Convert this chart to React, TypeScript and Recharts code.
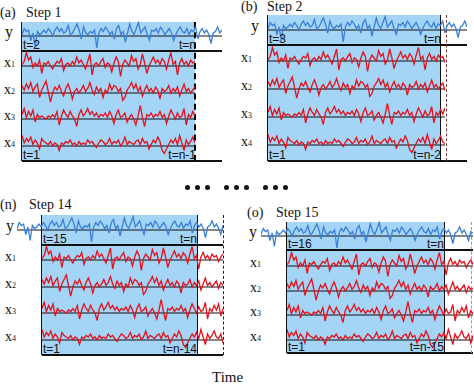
import React from "react";
import { LineChart, Line, XAxis, YAxis, ReferenceLine } from "recharts";

// target series, baseline = 0
const ySeries = [
  0.1, 0.5, 0.3, 0.4, -0.3, 0.2, -0.7, 0.3, 0.1, 0.2,
  0.4, 0.2, 0.5, 0.3, 0.0, 0.4, 0.6, 0.3, 0.5, 0.2,
  0.3, 0.7, 0.1, 0.2, 0.5, 0.8, 0.4, -0.2, 0.6, 0.2,
  0.1, 0.3, 0.2, 0.4, -0.8, 0.2, 0.5, 0.3, 0.6, 0.4,
  0.1, 0.3, -0.2, 0.5, 0.7, 0.1, 0.3, -0.4, 0.2, 0.8,
  0.3, 0.1, 0.5, 0.9, 0.2, 0.4, 0.6, 0.1, -0.3, 0.4,
  0.3, 0.5, 0.2, 0.6, 0.4, 0.1, 0.3, 0.5, 0.2, -0.3,
  0.1, 0.4, 0.6, 0.3, 0.2, 0.5, 0.1, 0.4, 0.3, 0.6,
  -0.2, 0.3, 0.5, 0.2, 0.4, 0.1, -0.5, 0.2, 0.3, 0.6,
  0.2, 0.4, 0.1, -0.3, 0.3, 0.2,
];

const x1Series = [
  0.1, 0.3, 0.9, 0.4, 0.6, -0.1, 0.2, 0.0, 0.4, -0.5,
  0.2, 0.1, 0.3, 0.0, -0.2, 0.1, 0.3, 0.2, 0.5, -0.3,
  0.1, 0.2, 0.0, 0.3, 0.1, 0.6, 0.2, 0.4, 0.1, -0.2,
  0.3, 0.8, -0.6, 0.1, 0.2, 0.0, 0.3, 0.5, -0.1, 0.2,
  0.1, -0.4, 0.2, 0.6, 0.3, -0.7, 0.1, 0.4, 0.2, 0.0,
  0.7, 0.3, 0.5, -0.2, 0.1, 0.8, 0.2, -0.5, 0.0, 0.3,
  0.6, 0.2, 0.4, 0.1, 0.5, 0.3, -0.2, 0.4, 0.9, 0.1,
  0.3, -0.6, 0.2, 0.5, 0.1, 0.3, 0.0, 0.4, 0.2, 0.3,
  -0.1, 0.2, 0.4, 0.1,
];

const x2Series = [
  0.5, 0.2, 0.6, 0.3, 0.7, 0.1, 0.4, 0.6, -0.3, 0.2,
  0.5, 0.8, 0.1, -0.6, 0.0, 0.4, 0.2, 0.5, 0.1, -0.2,
  0.3, 0.6, 0.2, -0.4, 0.1, 0.3, 0.0, 0.2, 0.5, 0.1,
  0.3, 0.7, 0.2, -0.1, 0.4, 0.1, 0.3, -0.3, 0.2, 0.0,
  0.6, 0.2, 0.5, 0.4, 0.1, 0.3, -0.5, -0.3, 0.2, 0.4,
  0.7, 0.3, 0.6, 0.1, 0.4, -0.2, 0.2, 0.5, 0.1, 0.3,
  0.0, 0.4, 0.2, -0.4, 0.3, 0.1, 0.2, 0.5, 0.0, 0.3,
  0.1, 0.4, -0.2, 0.2, 0.6, 0.1, 0.3, 0.0, 0.2, 0.4,
  -0.1, 0.3, 0.1, 0.2,
];

const x3Series = [
  0.3, 0.7, 0.1, 0.5, 0.2, 0.6, -0.2, 0.3, 0.1, 0.2,
  0.1, 0.0, 0.2, 0.1, 0.3, 0.1, 0.5, -0.4, 0.2, 0.6,
  0.3, 0.1, 0.5, 0.2, 0.0, -0.5, 0.3, 0.6, 0.2, 0.4,
  0.7, 0.3, 0.5, 0.2, 0.4, 0.1, 0.3, 0.2, 0.4, 0.1,
  0.5, 0.2, -0.3, 0.3, 0.6, 0.1, 0.2, 0.4, -0.2, 0.1,
  0.3, 0.0, -0.4, 0.2, 0.9, 0.1, -0.5, 0.3, 0.2, 0.4,
  0.1, 0.3, 0.2, 0.5, 0.1, 0.3, -0.3, 0.2, 0.6, 0.3,
  0.0, 0.4, 0.1, 0.2, 0.7, -0.4, 0.3, 0.1, 0.5, 0.2,
  0.6, -0.2, 0.3, 0.1,
];

const x4Series = [
  0.7, 0.2, 0.5, 0.3, 0.6, 0.1, 0.4, 0.2, -0.2, 0.5,
  0.3, 0.2, 0.1, 0.3, 0.0, 0.2, 0.1, -0.3, 0.2, 0.1,
  0.3, 0.2, 0.4, 0.1, 0.2, 0.0, 0.3, 0.1, 0.2, 0.1,
  0.4, 0.2, 0.3, 0.1, -0.1, 0.2, 0.4, 0.3, 0.1, 0.2,
  0.5, 0.1, 0.3, 0.2, 0.4, 0.0, 0.2, 0.6, 0.1, 0.3,
  0.2, 0.1, 0.3, 0.4, 0.1, 0.5, 0.2, 0.3, -0.2, 0.1,
  0.4, 0.2, 0.6, 0.3, -0.3, -0.5, -0.2, 0.1, 0.4, 0.2,
  0.5, 0.1, 0.7, 0.2, -0.3, 0.4, 0.1, 0.3, 0.6, 0.2,
  0.1, 0.4, -0.2, 0.3,
];

const inputSeries = [x1Series, x2Series, x3Series, x4Series];
const inputNames = ["1", "2", "3", "4"];

const panelTags = ["(a)", "(b)", "(n)", "(o)"];
const panelSteps = ["Step 1", "Step 2", "Step 14", "Step 15"];
const targetStartLabels = ["t=2", "t=3", "t=15", "t=16"];
const inputEndLabels = ["t=n-1", "t=n-2", "t=n-14", "t=n-15"];

// layout of each panel (page pixels)
const layout = [
  {
    tagX: 0, stepX: 26, titleBase: 19,
    boxL: 22, boxR: 195, boxT: 22, boxB: 161, lineR: 222,
    solidR: null, dashX: 195, dashColor: "#000", dashW: 2,
    yStart: 22, yEnd: 222, yBase: 36, underY: 51,
    xStart: 22, xEnd: 195, xBases: [66, 93, 119, 146],
    yNameX: 5, xNameX: 4, tRight: 196,
  },
  {
    tagX: 241, stepX: 267, titleBase: 13,
    boxL: 268, boxR: 441, boxT: 15, boxB: 161, lineR: 467,
    solidR: 441, dashX: 446, dashColor: "#7a3a3a", dashW: 1,
    yStart: 268, yEnd: 467, yBase: 30, underY: 45,
    xStart: 268, xEnd: 445, xBases: [61, 89, 117, 145],
    yNameX: 251, xNameX: 241, tRight: 441,
  },
  {
    tagX: 0, stepX: 29, titleBase: 211,
    boxL: 42, boxR: 198, boxT: 215, boxB: 355, lineR: 223,
    solidR: 198, dashX: 223, dashColor: "#222", dashW: 1,
    yStart: 17, yEnd: 223, yBase: 230, underY: 245,
    xStart: 42, xEnd: 223, xBases: [260, 287, 313, 340],
    yNameX: 6, xNameX: 5, tRight: 197,
  },
  {
    tagX: 247, stepX: 276, titleBase: 219,
    boxL: 287, boxR: 445, boxT: 222, boxB: 353, lineR: 473,
    solidR: 445, dashX: 472, dashColor: "#999", dashW: 1.5,
    yStart: 261, yEnd: 473, yBase: 236, underY: 250,
    xStart: 287, xEnd: 473, xBases: [266, 291, 315, 340],
    yNameX: 249, xNameX: 250, tRight: 444,
  },
];

const ROW_H = 30;
const PT_STEP = 2.2;
const BLUE_FILL = "#a4d4f6";
const BLUE_LINE = "#3b80d8";
const RED_LINE = "#e3121c";
const SERIF = "'Liberation Serif', 'DejaVu Serif', serif";
const SANS = "'Liberation Sans', Arial, sans-serif";

function Row({ left, right, base, values, color }) {
  const width = right - left;
  const n = Math.min(values.length, Math.round(width / PT_STEP) + 1);
  const data = values.slice(0, n).map((v, i) => ({ t: i, v }));
  return (
    <div style={{ position: "absolute", left, top: base - ROW_H / 2 }}>
      <LineChart width={width} height={ROW_H} data={data} margin={{ top: 0, right: 0, bottom: 0, left: 0 }}>
        <XAxis type="number" dataKey="t" domain={["dataMin", "dataMax"]} hide />
        <YAxis type="number" domain={[-1, 1]} hide allowDataOverflow />
        <ReferenceLine y={0} stroke="#111" strokeWidth={1.2} />
        <Line type="linear" dataKey="v" stroke={color} strokeWidth={1.3} dot={false} isAnimationActive={false} />
      </LineChart>
    </div>
  );
}

function Txt({ x, base, size, children, font = SERIF, right = false }) {
  const style: any = {
    position: "absolute",
    top: base - size * 0.9,
    fontSize: size,
    lineHeight: `${size}px`,
    fontFamily: font,
    color: "#111",
    whiteSpace: "nowrap",
  };
  if (right) style.right = 474 - x;
  else style.left = x;
  return <div style={style}>{children}</div>;
}

function HLine({ x0, x1, y, w = 1.5 }) {
  return <div style={{ position: "absolute", left: x0, top: y - w / 2, width: x1 - x0, height: w, background: "#111" }} />;
}

function VLine({ x, y0, y1, w = 1.5, dashed = false, color = "#111" }) {
  return (
    <div
      style={{
        position: "absolute",
        left: x - w / 2,
        top: y0,
        height: y1 - y0,
        width: 0,
        borderLeft: `${w}px ${dashed ? "dashed" : "solid"} ${color}`,
      }}
    />
  );
}

function Panel({ idx }) {
  const p = layout[idx];
  return (
    <>
      <div style={{ position: "absolute", left: p.boxL, top: p.boxT, width: p.boxR - p.boxL, height: p.boxB - p.boxT, background: BLUE_FILL }} />
      <HLine x0={p.boxL} x1={p.lineR} y={p.underY} />
      <HLine x0={p.boxL} x1={p.lineR} y={p.boxB} />
      <VLine x={p.boxL} y0={p.boxT} y1={p.boxB} />
      {p.solidR !== null && <VLine x={p.solidR} y0={p.boxT} y1={p.boxB} />}
      <VLine x={p.dashX} y0={p.boxT} y1={p.boxB} w={p.dashW} dashed color={p.dashColor} />

      <Row left={p.yStart} right={p.yEnd} base={p.yBase} values={ySeries} color={BLUE_LINE} />
      {inputSeries.map((s, i) => (
        <Row key={i} left={p.xStart} right={p.xEnd} base={p.xBases[i]} values={s} color={RED_LINE} />
      ))}

      <Txt x={p.tagX} base={p.titleBase} size={14}>{panelTags[idx]}</Txt>
      <Txt x={p.stepX} base={p.titleBase} size={14}>{panelSteps[idx]}</Txt>
      <Txt x={p.yNameX} base={p.yBase + 2} size={16}>y</Txt>
      {inputNames.map((nm, i) => (
        <Txt key={nm} x={p.xNameX} base={p.xBases[i] + 3} size={14}>
          x<span style={{ fontSize: 8 }}>{nm}</span>
        </Txt>
      ))}
      <Txt x={p.boxL + 1} base={p.underY - 1} size={12} font={SANS}>{targetStartLabels[idx]}</Txt>
      <Txt x={p.tRight} base={p.underY - 1} size={12} font={SANS} right>t=n</Txt>
      <Txt x={p.boxL + 1} base={p.boxB - 1} size={12} font={SANS}>t=1</Txt>
      <Txt x={p.tRight} base={p.boxB - 1} size={12} font={SANS} right>{inputEndLabels[idx]}</Txt>
    </>
  );
}

const dotXs = [187, 197, 207, 226, 236, 246, 265, 275, 285];

export default function App() {
  return (
    <div style={{ position: "absolute", left: 0, top: 0, width: 474, height: 387, background: "#fff", overflow: "hidden" }}>
      {layout.map((_, i) => (
        <Panel key={i} idx={i} />
      ))}
      {dotXs.map((x) => (
        <div key={x} style={{ position: "absolute", left: x - 2.5, top: 187 - 2.5, width: 5, height: 5, borderRadius: 3, background: "#111" }} />
      ))}
      <Txt x={212} base={383} size={15}>Time</Txt>
    </div>
  );
}
